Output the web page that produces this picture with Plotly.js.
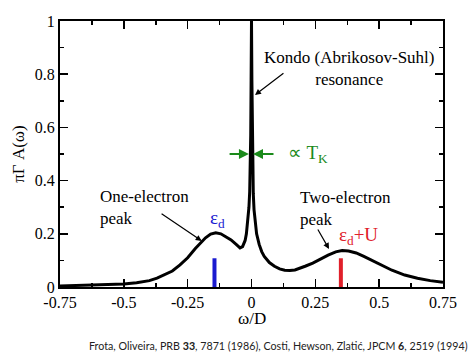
<!DOCTYPE html>
<html><head><meta charset="utf-8">
<script src="https://cdn.plot.ly/plotly-3.0.1.min.js"></script>
<style>html,body{margin:0;padding:0;background:#fff;}#chart{width:474px;height:355px;}</style>
</head><body><div id="chart"></div>
<script>
const omega = [-0.75,-0.7,-0.65,-0.6,-0.55,-0.5,-0.45,-0.4,-0.37,-0.34,-0.31,-0.28,-0.25,-0.22,-0.2,-0.18,-0.16,-0.14,-0.12,-0.1,-0.08,-0.06,-0.045,-0.035,-0.025,-0.02,-0.015,-0.01,-0.007,-0.005,-0.003,-0.0015,0,0.0015,0.003,0.005,0.007,0.01,0.015,0.02,0.03,0.04,0.05,0.07,0.09,0.11,0.13,0.15,0.17,0.19,0.21,0.24,0.27,0.3,0.33,0.355,0.38,0.41,0.44,0.47,0.5,0.55,0.6,0.65,0.7,0.75];
const spectral = [0.004,0.005,0.006,0.008,0.009,0.011,0.016,0.024,0.033,0.045,0.06,0.083,0.11,0.145,0.166,0.185,0.199,0.204,0.2,0.19,0.177,0.16,0.147,0.152,0.175,0.2,0.24,0.3,0.36,0.43,0.57,0.78,1.0,0.78,0.56,0.42,0.35,0.29,0.235,0.2,0.16,0.133,0.115,0.092,0.078,0.068,0.063,0.062,0.064,0.07,0.078,0.09,0.106,0.12,0.132,0.137,0.135,0.128,0.115,0.1,0.085,0.063,0.045,0.033,0.024,0.018];
const levelPos = [-0.145, 0.35];
const levelHeight = [0.108, 0.108];
const levelColor = ['#1a1ad0', '#e0202a'];
const xTicks = [-0.75,-0.5,-0.25,0,0.25,0.5,0.75];
const xTickText = ['-0.75','-0.5','-0.25','0','0.25','0.5','0.75'];
const yTicks = [0,0.2,0.4,0.6,0.8,1];
const yTickText = ['0','0.2','0.4','0.6','0.8','1'];

const serif = 'Liberation Serif';
const traces = [{
  x: omega, y: spectral, type: 'scatter', mode: 'lines',
  line: {color: '#000', width: 3}, hoverinfo: 'skip'
}];
levelPos.forEach((p, i) => {
  traces.push({x: [p, p], y: [0, levelHeight[i]], type: 'scatter', mode: 'lines',
    line: {color: levelColor[i], width: 4}, hoverinfo: 'skip'});
});
const green = '#1a8a1a';
const f17 = {family: serif, size: 17, color: '#000'};
const layout = {
  width: 474, height: 355,
  margin: {l: 60, r: 31, t: 21, b: 68},
  paper_bgcolor: '#fff', plot_bgcolor: '#fff',
  showlegend: false,
  font: {family: serif, size: 16, color: '#000'},
  xaxis: {range: [-0.75, 0.75], tickvals: xTicks, ticktext: xTickText,
    ticks: 'inside', ticklen: 8, tickwidth: 1.5, tickcolor: '#000',
    showline: true, linecolor: '#000', linewidth: 2, mirror: 'allticks',
    showgrid: false, zeroline: false,
    minor: {dtick: 0.125, ticks: 'inside', ticklen: 4, tickwidth: 1.5, tickcolor: '#000', showgrid: false},
    tickfont: {family: serif, size: 16, color: '#000'}},
  yaxis: {range: [0, 1], tickvals: yTicks, ticktext: yTickText,
    ticks: 'inside', ticklen: 8, tickwidth: 1.5, tickcolor: '#000',
    showline: true, linecolor: '#000', linewidth: 2, mirror: 'allticks',
    showgrid: false, zeroline: false,
    minor: {dtick: 0.1, ticks: 'inside', ticklen: 4, tickwidth: 1.5, tickcolor: '#000', showgrid: false},
    tickfont: {family: serif, size: 16, color: '#000'},
    title: {text: 'πΓ A(ω)', font: {family: serif, size: 17, color: '#000'}, standoff: 6}},
  annotations: [
    {xref: 'paper', yref: 'paper', x: 0.5, y: -(318 - 287) / 266, yanchor: 'middle', text: 'ω/D', showarrow: false, font: f17},
    {x: 0.38, y: 0.822, xref: 'x', yref: 'y', text: 'Kondo (Abrikosov-Suhl)<br>resonance', showarrow: false, font: f17, align: 'center'},
    {x: 0.0137, y: 0.722, ax: 0.131, ay: 0.808, axref: 'x', ayref: 'y', xref: 'x', yref: 'y', text: '', showarrow: true, arrowhead: 2, arrowsize: 1, arrowwidth: 1.2, arrowcolor: '#000'},
    {x: -0.601, y: 0.30, xref: 'x', yref: 'y', xanchor: 'left', text: 'One-electron<br>peak', showarrow: false, font: f17, align: 'left'},
    {x: -0.195, y: 0.173, ax: -0.358, ay: 0.279, axref: 'x', ayref: 'y', xref: 'x', yref: 'y', text: '', showarrow: true, arrowhead: 2, arrowsize: 1, arrowwidth: 1.2, arrowcolor: '#000'},
    {x: 0.182, y: 0.294, xref: 'x', yref: 'y', xanchor: 'left', text: 'Two-electron<br>peak', showarrow: false, font: f17, align: 'left'},
    {x: 0.3036, y: 0.143, ax: 0.2565, ay: 0.222, axref: 'x', ayref: 'y', xref: 'x', yref: 'y', text: '', showarrow: true, arrowhead: 2, arrowsize: 1, arrowwidth: 1.2, arrowcolor: '#000'},
    {x: -0.135, y: 0.255, xref: 'x', yref: 'y', text: 'ε<sub>d</sub>', showarrow: false, font: {family: serif, size: 19, color: levelColor[0]}},
    {x: 0.419, y: 0.19, xref: 'x', yref: 'y', text: 'ε<sub>d</sub>+U', showarrow: false, font: {family: serif, size: 19, color: levelColor[1]}},
    {x: -0.01, y: 0.5, ax: -0.0917, ay: 0.5, axref: 'x', ayref: 'y', xref: 'x', yref: 'y', text: '', showarrow: true, arrowhead: 2, arrowsize: 1, arrowwidth: 2, arrowcolor: green},
    {x: 0.006, y: 0.5, ax: 0.092, ay: 0.5, axref: 'x', ayref: 'y', xref: 'x', yref: 'y', text: '', showarrow: true, arrowhead: 2, arrowsize: 1, arrowwidth: 2, arrowcolor: green},
    {x: 0.135, y: 0.5, xref: 'x', yref: 'y', xanchor: 'left', text: '∝ T<sub>K</sub>', showarrow: false, font: {family: serif, size: 19, color: green}},
    {xref: 'paper', yref: 'paper', x: (278 - 60) / 383, xanchor: 'center', y: -(345 - 287) / 266, yanchor: 'middle',
     text: 'Frota, Oliveira, PRB <b>33</b>, 7871 (1986), Costi, Hewson, Zlatić, JPCM <b>6</b>, 2519 (1994)',
     showarrow: false, font: {family: 'Lato', size: 10.7, color: '#222'}}
  ]
};
Plotly.newPlot('chart', traces, layout, {staticPlot: true, displayModeBar: false});
</script></body></html>
